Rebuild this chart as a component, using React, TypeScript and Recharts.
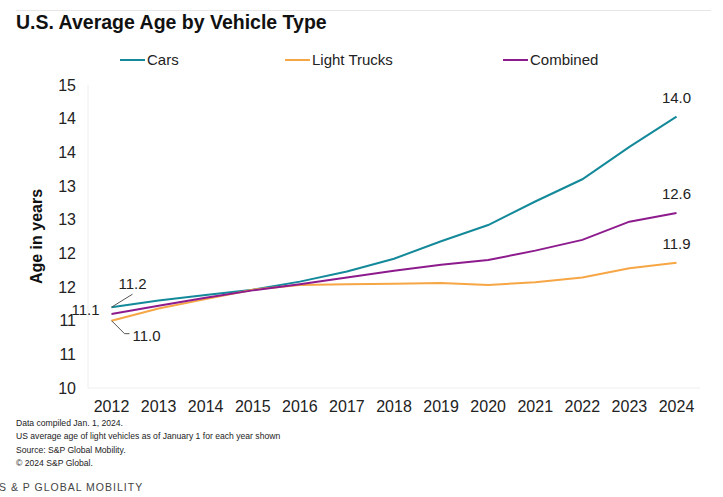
import { LineChart, Line, XAxis, YAxis } from 'recharts';

const years = ['2012', '2013', '2014', '2015', '2016', '2017', '2018', '2019', '2020', '2021', '2022', '2023', '2024'];
const cars = [11.2, 11.3, 11.38, 11.46, 11.58, 11.73, 11.92, 12.18, 12.42, 12.77, 13.1, 13.58, 14.03];
const lightTrucks = [11.0, 11.18, 11.32, 11.46, 11.53, 11.54, 11.55, 11.56, 11.53, 11.57, 11.64, 11.78, 11.86];
const combined = [11.1, 11.22, 11.34, 11.45, 11.54, 11.64, 11.74, 11.83, 11.9, 12.04, 12.2, 12.47, 12.6];
const yTicks = [10, 10.5, 11, 11.5, 12, 12.5, 13, 13.5, 14, 14.5];
const footnotes = [
  'Data compiled Jan. 1, 2024.',
  'US average age of light vehicles as of January 1 for each year shown',
  'Source: S&P Global Mobility.',
  '\u00a9 2024 S&P Global.',
];

const CARS = '#13899a';
const TRUCKS = '#f6a645';
const COMBINED = '#8d1b8d';
const FONT = '"Liberation Sans", Arial, sans-serif';

const data = years.map((year, i) => ({
  year,
  cars: cars[i],
  trucks: lightTrucks[i],
  combined: combined[i],
}));

const last = years.length - 1;

// end labels plus the leader-line labels at the first year
function makeLabel(kind: 'cars' | 'trucks' | 'combined') {
  return (props: any) => {
    const { x, y, index, value } = props;
    const txt = Number(value).toFixed(1);
    if (index === last) {
      return (
        <text key={`l-${kind}-${index}`} x={x} y={y - 14} textAnchor="middle" fontSize={15} fill="#222" fontFamily={FONT}>
          {txt}
        </text>
      );
    }
    if (index !== 0) return null;
    if (kind === 'cars') {
      return (
        <g key={`l-${kind}-0`}>
          <line x1={x} y1={y} x2={x + 21} y2={y - 13} stroke="#555" strokeWidth={1} />
          <text x={x + 7} y={y - 18} fontSize={15} fill="#222" fontFamily={FONT}>{txt}</text>
        </g>
      );
    }
    if (kind === 'trucks') {
      return (
        <g key={`l-${kind}-0`}>
          <polyline points={`${x},${y} ${x + 13},${y + 13} ${x + 18},${y + 13}`} fill="none" stroke="#555" strokeWidth={1} />
          <text x={x + 21} y={y + 20} fontSize={15} fill="#222" fontFamily={FONT}>{txt}</text>
        </g>
      );
    }
    return (
      <text key={`l-${kind}-0`} x={x - 12} y={y + 1} textAnchor="end" fontSize={15} fill="#222" fontFamily={FONT}>
        {txt}
      </text>
    );
  };
}

const legendItems = [
  { name: 'Cars', color: CARS, x: 120 },
  { name: 'Light Trucks', color: TRUCKS, x: 285 },
  { name: 'Combined', color: COMBINED, x: 503 },
];

export default function App() {
  return (
    <div style={{ position: 'absolute', left: 0, top: 0, width: 723, height: 497, background: '#fff', fontFamily: FONT, overflow: 'hidden' }}>
      <div style={{ position: 'absolute', left: 16, right: 12, top: 10, borderTop: '1px solid #e6e6e6' }} />
      <div style={{ position: 'absolute', left: 16, top: 11, fontSize: 19.5, fontWeight: 'bold', color: '#111' }}>
        U.S. Average Age by Vehicle Type
      </div>
      <svg width={723} height={24} style={{ position: 'absolute', left: 0, top: 48 }}>
        {legendItems.map((it) => (
          <g key={it.name}>
            <line x1={it.x} y1={12} x2={it.x + 25} y2={12} stroke={it.color} strokeWidth={2} />
            <text x={it.x + 27} y={17} fontSize={15} fill="#222" fontFamily={FONT}>{it.name}</text>
          </g>
        ))}
      </svg>
      <div style={{ position: 'absolute', left: 0, top: 0 }}>
        <LineChart width={723} height={497} data={data} margin={{ top: 85, right: 23, bottom: 79, left: 28 }}>
          <XAxis
            dataKey="year"
            padding={{ left: 23.5, right: 23.5 }}
            height={30}
            tickLine={false}
            axisLine={{ stroke: '#eeeeee' }}
            tick={{ fontSize: 16, fill: '#222', fontFamily: FONT }}
            tickMargin={7}
            interval={0}
          />
          <YAxis
            width={60}
            domain={[10, 14.5]}
            ticks={yTicks}
            interval={0}
            tickFormatter={(v: number) => String(Math.round(v))}
            tickLine={false}
            tickSize={10}
            axisLine={{ stroke: '#eeeeee' }}
            tick={{ fontSize: 16, fill: '#222', fontFamily: FONT }}
            label={{ value: 'Age in years', angle: -90, position: 'insideLeft', offset: 0, dx: 8, style: { fontSize: 16, fontWeight: 'bold', fill: '#111', fontFamily: FONT, textAnchor: 'middle' } }}
          />
          <YAxis yAxisId="right" orientation="right" width={0} domain={[10, 14.5]} tick={false} tickLine={false} axisLine={{ stroke: '#eeeeee' }} />
          <Line dataKey="cars" name="Cars" stroke={CARS} strokeWidth={2} dot={false} isAnimationActive={false} label={makeLabel('cars')} />
          <Line dataKey="trucks" name="Light Trucks" stroke={TRUCKS} strokeWidth={2} dot={false} isAnimationActive={false} label={makeLabel('trucks')} />
          <Line dataKey="combined" name="Combined" stroke={COMBINED} strokeWidth={2} dot={false} isAnimationActive={false} label={makeLabel('combined')} />
        </LineChart>
      </div>
      <div style={{ position: 'absolute', left: 16, top: 417, fontSize: 8.6, lineHeight: '13.3px', color: '#222' }}>
        {footnotes.map((f) => (
          <div key={f}>{f}</div>
        ))}
      </div>
      <div style={{ position: 'absolute', left: -1, top: 481, fontSize: 10.5, letterSpacing: 1.0, color: '#444' }}>
        S &amp; P GLOBAL MOBILITY
      </div>
    </div>
  );
}
